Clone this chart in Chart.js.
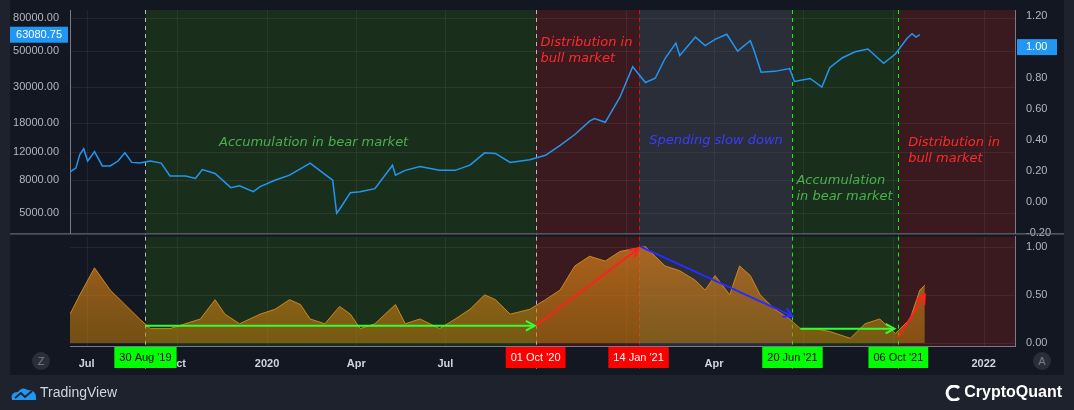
<!DOCTYPE html>
<html><head><meta charset="utf-8">
<script src="https://cdn.jsdelivr.net/npm/chart.js@4"></script>
<style>
body{margin:0;background:#1e222d;width:1074px;height:410px;overflow:hidden;font-family:"Liberation Sans",Arial,sans-serif}
#wrap{position:absolute;left:10px;top:0;width:1054px;height:375px;background:#131722}
canvas{position:absolute}
#c1{left:0;top:0}
#c2{left:0;top:227px}
.circ{position:absolute;width:18px;height:18px;border-radius:9px;background:#2a2e39;color:#787b86;font-size:11px;text-align:center;line-height:18px}
#tv{position:absolute;left:40px;top:384px;color:#d1d4dc;font-size:14px}
#cq{position:absolute;right:12px;top:383px;color:#fff;font-size:16px;font-weight:bold}
</style></head><body>
<div id="wrap"></div>
<canvas id="c1" width="1074" height="243"></canvas>
<canvas id="c2" width="1074" height="143"></canvas>
<div class="circ" style="left:32px;top:352px">Z</div>
<div class="circ" style="left:1033px;top:352px">A</div>
<svg style="position:absolute;left:10px;top:386px" width="28" height="16"><path d="M2 14 Q0 6 8 6 Q12 0 18 4 Q26 4 26 12 L26 14 Z" fill="#2196f3"/><path d="M5 12 L11 7 L15 11 L22 5" stroke="#1e222d" stroke-width="2" fill="none"/></svg>
<div id="tv">TradingView</div>
<svg style="position:absolute;left:945px;top:385px" width="16" height="16"><path d="M14 3 A7 7 0 1 0 14 13" stroke="#fff" stroke-width="3" fill="none"/></svg>
<div id="cq">CryptoQuant</div>
<script>
const startDate = "2019-06-14";
const endDate = "2022-02-02";

const priceDates = ["2019-06-14","2019-06-20","2019-06-24","2019-06-28","2019-07-02","2019-07-09","2019-07-17","2019-07-25","2019-08-02","2019-08-09","2019-08-16","2019-08-24","2019-09-04","2019-09-15","2019-09-24","2019-10-10","2019-10-20","2019-10-27","2019-11-09","2019-11-25","2019-12-04","2019-12-18","2019-12-25","2020-01-09","2020-01-24","2020-02-14","2020-02-29","2020-03-08","2020-03-12","2020-03-15","2020-03-26","2020-04-05","2020-04-20","2020-05-08","2020-05-11","2020-05-21","2020-06-05","2020-06-25","2020-07-11","2020-07-26","2020-08-10","2020-08-21","2020-09-05","2020-09-25","2020-10-11","2020-10-26","2020-11-10","2020-11-25","2020-11-30","2020-12-11","2020-12-26","2021-01-08","2021-01-21","2021-01-31","2021-02-10","2021-02-21","2021-02-25","2021-03-13","2021-03-23","2021-04-02","2021-04-14","2021-04-25","2021-05-08","2021-05-12","2021-05-19","2021-06-02","2021-06-17","2021-06-22","2021-07-08","2021-07-20","2021-07-28","2021-08-10","2021-08-23","2021-09-05","2021-09-21","2021-10-03","2021-10-15","2021-10-20","2021-10-24","2021-10-28"];
const priceValues = [9000,9500,11500,12500,10500,12000,9800,9800,10500,11800,10300,10200,10500,10200,8500,8500,8200,9300,8800,7200,7400,6800,7300,8000,8600,10200,8700,8000,5000,5300,6700,6800,7100,9900,8600,9200,9700,9200,9200,9900,11800,11700,10300,10700,11400,13100,15300,18500,19200,18200,26000,40000,32000,34000,45000,56000,47000,61000,54000,59000,63500,50000,58000,50000,37000,37500,39000,32500,33900,30000,39500,45500,49500,51500,42000,48000,60000,64000,61000,63080.75];

const oscDates = ["2019-06-14","2019-06-24","2019-07-09","2019-07-25","2019-08-09","2019-08-24","2019-09-04","2019-09-24","2019-10-25","2019-11-09","2019-11-19","2019-12-04","2019-12-25","2020-01-09","2020-01-24","2020-02-04","2020-02-14","2020-02-29","2020-03-15","2020-03-26","2020-04-05","2020-04-20","2020-05-11","2020-05-21","2020-06-05","2020-06-25","2020-07-11","2020-07-26","2020-08-10","2020-08-21","2020-09-05","2020-09-25","2020-10-11","2020-10-26","2020-11-10","2020-11-25","2020-12-11","2020-12-26","2021-01-10","2021-01-21","2021-01-31","2021-02-10","2021-02-25","2021-03-13","2021-03-23","2021-04-02","2021-04-17","2021-04-27","2021-05-08","2021-05-18","2021-06-02","2021-06-17","2021-06-28","2021-07-13","2021-07-28","2021-08-18","2021-09-02","2021-09-17","2021-10-03","2021-10-18","2021-10-28","2021-11-02"];
const oscValues = [0.3,0.5,0.78,0.55,0.4,0.25,0.15,0.15,0.25,0.45,0.3,0.2,0.3,0.35,0.45,0.4,0.25,0.2,0.38,0.3,0.15,0.2,0.4,0.2,0.25,0.15,0.25,0.35,0.5,0.45,0.3,0.35,0.45,0.55,0.8,0.9,0.85,0.95,0.98,1.0,0.9,0.8,0.75,0.65,0.55,0.7,0.5,0.8,0.7,0.5,0.35,0.25,0.15,0.15,0.12,0.05,0.2,0.25,0.1,0.25,0.55,0.6];

const tickDates = ["2019-07-01","2019-10-01","2020-01-01","2020-04-01","2020-07-01","2020-10-01","2021-01-01","2021-04-01","2021-07-01","2021-10-01","2022-01-01"];
const tickLabels = ["Jul","Oct","2020","Apr","Jul","Oct","2021","Apr","Jul","Oct","2022"];
const priceTicks = [5000,8000,12000,18000,30000,50000,80000];

const phaseDates = ["2019-08-30","2020-10-01","2021-01-14","2021-06-20","2021-10-06","2022-02-02"];
const phaseColors = ["#1a2f1b","#3a1a1e","#2a2e38","#1a2f1b","#3a1a1e"];
const markerLabels = ["30 Aug '19","01 Oct '20","14 Jan '21","20 Jun '21","06 Oct '21"];
const markerColors = ["#00ff00","#ff0000","#ff0000","#00ff00","#00ff00"];
const markerLine = ["#bbbbbb","#bbbbbb","#ff0000","#00ff00","#00ff00"];

// arrows on the oscillator: [fromDate, fromVal, toDate, toVal, colour]
const arrows = [
  ["2019-08-30",0.18,"2020-09-30",0.18,"#33ff33"],
  ["2020-10-01",0.18,"2021-01-14",0.98,"#ff2020"],
  ["2021-01-16",1.0,"2021-06-20",0.28,"#2b2bff"],
  ["2021-06-28",0.15,"2021-10-02",0.15,"#33ff33"],
  ["2021-10-06",0.06,"2021-11-02",0.5,"#ff2020"]
];
// texts: lines, date, price, colour
const notes = [
  [["Accumulation in bear market"],"2019-11-13",13600,"#4caf50"],
  [["Distribution in","bull market"],"2020-10-06",56000,"#ff2a2a"],
  [["Spending slow down"],"2021-01-25",14000,"#3b3bff"],
  [["Accumulation","in bear market"],"2021-06-24",8000,"#4caf50"],
  [["Distribution in","bull market"],"2021-10-16",13600,"#ff2a2a"]
];

const d0 = Date.UTC(2019,5,14);
function day(s){ const p=s.split("-"); return (Date.UTC(+p[0],p[1]-1,+p[2])-d0)/86400000; }
const xMax = day(endDate);

const bgPlugin = {
  id:"bg",
  beforeDatasetsDraw(c){
    const ctx=c.ctx, a=c.chartArea, x=c.scales.x;
    ctx.save();
    for(let i=0;i<phaseColors.length;i++){
      const x1=x.getPixelForValue(day(phaseDates[i])), x2=x.getPixelForValue(day(phaseDates[i+1]));
      ctx.fillStyle=phaseColors[i]; ctx.fillRect(x1,a.top,x2-x1,a.bottom-a.top);
    }
    ctx.strokeStyle="rgba(120,123,134,0.15)"; ctx.lineWidth=1;
    tickDates.forEach(t=>{const px=Math.round(x.getPixelForValue(day(t)))+0.5;ctx.beginPath();ctx.moveTo(px,a.top);ctx.lineTo(px,a.bottom);ctx.stroke();});
    const ys=Object.values(c.scales).filter(s=>s.axis==="y"&&s.options.grid.display);
    ys.forEach(s=>s.ticks.forEach(t=>{const py=Math.round(s.getPixelForValue(t.value))+0.5;ctx.beginPath();ctx.moveTo(a.left,py);ctx.lineTo(a.right,py);ctx.stroke();}));
    ctx.setLineDash([4,4]);
    for(let i=0;i<markerLine.length;i++){
      const px=Math.round(x.getPixelForValue(day(phaseDates[i])))+0.5;
      ctx.strokeStyle=markerLine[i]; ctx.beginPath(); ctx.moveTo(px,a.top); ctx.lineTo(px,c.options.fullLine?c.height:a.bottom+1); ctx.stroke();
    }
    ctx.restore();
  }
};

const tickOpts = {color:"#b2b5be",font:{size:11}};

new Chart(document.getElementById("c1"),{
  type:"line",
  data:{datasets:[{data:priceDates.map((d,i)=>({x:day(d),y:priceValues[i]})),borderColor:"#2196f3",borderWidth:1.5,pointRadius:0,tension:0,yAxisID:"y"}]},
  options:{
    responsive:false,animation:false,devicePixelRatio:1,
    layout:{autoPadding:false,padding:{top:10,bottom:1,left:0,right:0}},
    plugins:{legend:{display:false},tooltip:{enabled:false}},
    scales:{
      x:{type:"linear",min:0,max:xMax,display:false},
      y:{type:"logarithmic",position:"left",min:3760,max:89600,grid:{display:true,color:"transparent"},border:{color:"#787b86"},
        afterBuildTicks(s){s.ticks=priceTicks.map(v=>({value:v}));},
        ticks:{...tickOpts,callback:v=>v.toFixed(2)},afterFit(s){s.width=70;}},
      yR:{type:"linear",position:"right",min:-0.2,max:1.239,grid:{display:false},border:{color:"#787b86"},
        afterBuildTicks(s){s.ticks=[-0.2,0,0.2,0.4,0.6,0.8,1.0,1.2].map(v=>({value:v}));},
        ticks:{...tickOpts,callback:v=>v.toFixed(2)},afterFit(s){s.width=59;}}
    }
  },
  plugins:[bgPlugin,{
    id:"notes",
    afterDraw(c){
      const ctx=c.ctx,x=c.scales.x,y=c.scales.y,a=c.chartArea;
      ctx.save();
      ctx.font="italic 13px 'DejaVu Sans'"; ctx.textBaseline="middle";
      notes.forEach(n=>{ctx.fillStyle=n[3];n[0].forEach((t,i)=>ctx.fillText(t,x.getPixelForValue(day(n[1])),y.getPixelForValue(n[2])+i*16));});
      ctx.strokeStyle="#787b86";ctx.beginPath();ctx.moveTo(10,a.bottom+0.5);ctx.lineTo(a.right+49,a.bottom+0.5);ctx.stroke();
      const last=priceValues[priceValues.length-1], py=y.getPixelForValue(last);
      ctx.fillStyle="#2196f3";ctx.fillRect(10,py-8,a.left-12,16);
      ctx.fillStyle="#fff";ctx.font="11px 'Liberation Sans'";ctx.textAlign="right";ctx.fillText(last.toFixed(2),a.left-8,py);
      const r=c.scales.yR, ry=r.getPixelForValue(1.0);
      ctx.fillStyle="#2196f3";ctx.fillRect(a.right+2,ry-8,40,16);
      ctx.fillStyle="#fff";ctx.textAlign="left";ctx.fillText("1.00",a.right+11,ry);
      ctx.restore();
    }
  }]
});

new Chart(document.getElementById("c2"),{
  type:"line",
  data:{datasets:[
    {data:oscDates.map((d,i)=>({x:day(d),y:oscValues[i]})),borderColor:"#c98a1c",borderWidth:1,pointRadius:0,tension:0,order:2,
      fill:{target:{value:0}},
      backgroundColor(ctx){const a=ctx.chart.chartArea;if(!a)return"rgba(200,120,10,0.55)";const g=ctx.chart.ctx.createLinearGradient(0,a.top,0,a.bottom);g.addColorStop(0,"rgba(225,125,30,0.72)");g.addColorStop(1,"rgba(190,125,10,0.55)");return g;}},
    ...arrows.map(r=>({data:[{x:day(r[0]),y:r[1]},{x:day(r[2]),y:r[3]}],borderColor:r[4],borderWidth:2,pointRadius:0,fill:false,arrow:true,order:0}))
  ]},
  options:{
    responsive:false,animation:false,devicePixelRatio:1,fullLine:true,
    layout:{autoPadding:false,padding:{top:1,left:70,right:0,bottom:0}},
    plugins:{legend:{display:false},tooltip:{enabled:false}},
    scales:{
      x:{type:"linear",min:0,max:xMax,grid:{display:false},border:{color:"#787b86"},
        afterBuildTicks(s){s.ticks=tickDates.map(t=>({value:day(t)}));},
        ticks:{color:"#d1d4dc",font:{size:11,weight:"bold"},maxRotation:0,autoSkip:false,callback:(v,i)=>tickLabels[i]},afterFit(s){s.height=24;}},
      y:{type:"linear",position:"right",min:-0.03,max:1.104,grid:{display:true,color:"transparent"},border:{color:"#787b86"},
        afterBuildTicks(s){s.ticks=[0,0.5,1].map(v=>({value:v}));},
        ticks:{...tickOpts,callback:v=>v.toFixed(2)},afterFit(s){s.width=59;}}
    }
  },
  plugins:[bgPlugin,{
    id:"arrowsAndLabels",
    afterDraw(c){
      const ctx=c.ctx,x=c.scales.x,a=c.chartArea;
      ctx.save();
      c.data.datasets.forEach((ds,i)=>{
        if(!ds.arrow)return;
        const pts=c.getDatasetMeta(i).data, p0=pts[0], p1=pts[1];
        const ang=Math.atan2(p1.y-p0.y,p1.x-p0.x);
        ctx.strokeStyle=ds.borderColor;ctx.lineWidth=2;ctx.beginPath();
        ctx.moveTo(p1.x-10*Math.cos(ang-0.5),p1.y-10*Math.sin(ang-0.5));ctx.lineTo(p1.x,p1.y);
        ctx.lineTo(p1.x-10*Math.cos(ang+0.5),p1.y-10*Math.sin(ang+0.5));ctx.stroke();
      });
      ctx.font="11px 'Liberation Sans'";ctx.textAlign="center";ctx.textBaseline="middle";
      markerLabels.forEach((t,i)=>{
        const px=x.getPixelForValue(day(phaseDates[i])), w=ctx.measureText(t).width+10;
        ctx.fillStyle=markerColors[i];ctx.fillRect(px-w/2,a.bottom+1,w,21);
        ctx.fillStyle=markerColors[i]==="#ff0000"?"#fff":"#000";ctx.fillText(t,px,a.bottom+12);
      });
      ctx.restore();
    }
  }]
});
</script>
</body></html>
